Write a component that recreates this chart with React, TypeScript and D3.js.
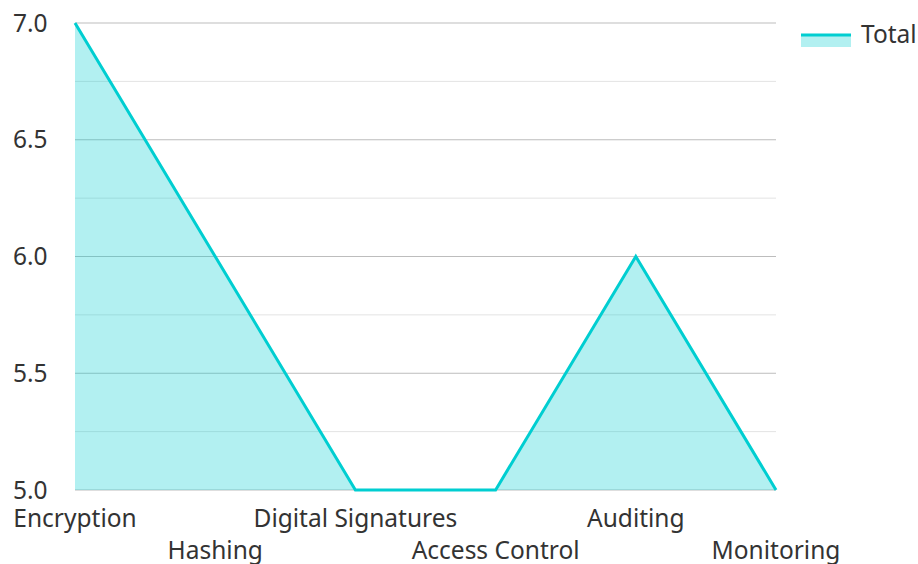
import React from "react";
import * as d3 from "d3";

const categories = ["Encryption", "Hashing", "Digital Signatures", "Access Control", "Auditing", "Monitoring"];
const totals = [7, 6, 5, 5, 6, 5];
const yTicks = [5.0, 5.5, 6.0, 6.5, 7.0];
const yMinorTicks = [5.25, 5.75, 6.25, 6.75];
const seriesName = "Total";

const W = 918, H = 564;
const left = 75, right = 776, top = 23, bottom = 490;
const COLOR = "#00CED1";
const FONT = "'Noto Sans', 'Open Sans', sans-serif";
const FS = 24.5;

export default function App() {
  const x = d3.scalePoint<string>().domain(categories).range([left, right]);
  const y = d3.scaleLinear().domain([5, 7]).range([bottom, top]);
  const data = categories.map((c, i) => ({ c, v: totals[i] }));
  const line = d3.line<{ c: string; v: number }>().x(d => x(d.c)!).y(d => y(d.v));
  const area = d3.area<{ c: string; v: number }>().x(d => x(d.c)!).y0(y(5)).y1(d => y(d.v));
  return (
    <svg width={W} height={H} style={{ position: "absolute", left: 0, top: 0 }}>
      <rect width={W} height={H} fill="#fff" />
      {yMinorTicks.map(t => (
        <line key={"m" + t} x1={left} x2={right} y1={y(t)} y2={y(t)} stroke="#e3e3e3" strokeWidth={1} />
      ))}
      {yTicks.map(t => (
        <line key={"g" + t} x1={left} x2={right} y1={y(t)} y2={y(t)} stroke="#bdbdbd" strokeWidth={1} />
      ))}
      <path d={area(data)!} fill={COLOR} fillOpacity={0.3} />
      <path d={line(data)!} fill="none" stroke={COLOR} strokeWidth={3} strokeLinejoin="miter" />
      {yTicks.map(t => (
        <text key={"y" + t} x={13} y={y(t)} dy="0.35em" fontFamily={FONT} fontSize={FS} fill="#333">
          {t.toFixed(1)}
        </text>
      ))}
      {categories.map((c, i) => (
        <text key={c} x={x(c)!} y={i % 2 === 0 ? 527 : 559} textAnchor="middle" fontFamily={FONT} fontSize={FS} fill="#333">
          {c}
        </text>
      ))}
      <rect x={801} y={36} width={50} height={11} fill={COLOR} fillOpacity={0.3} />
      <line x1={801} x2={851} y1={35} y2={35} stroke={COLOR} strokeWidth={3} />
      <text x={861} y={43} fontFamily={FONT} fontSize={FS} fill="#333">{seriesName}</text>
    </svg>
  );
}
